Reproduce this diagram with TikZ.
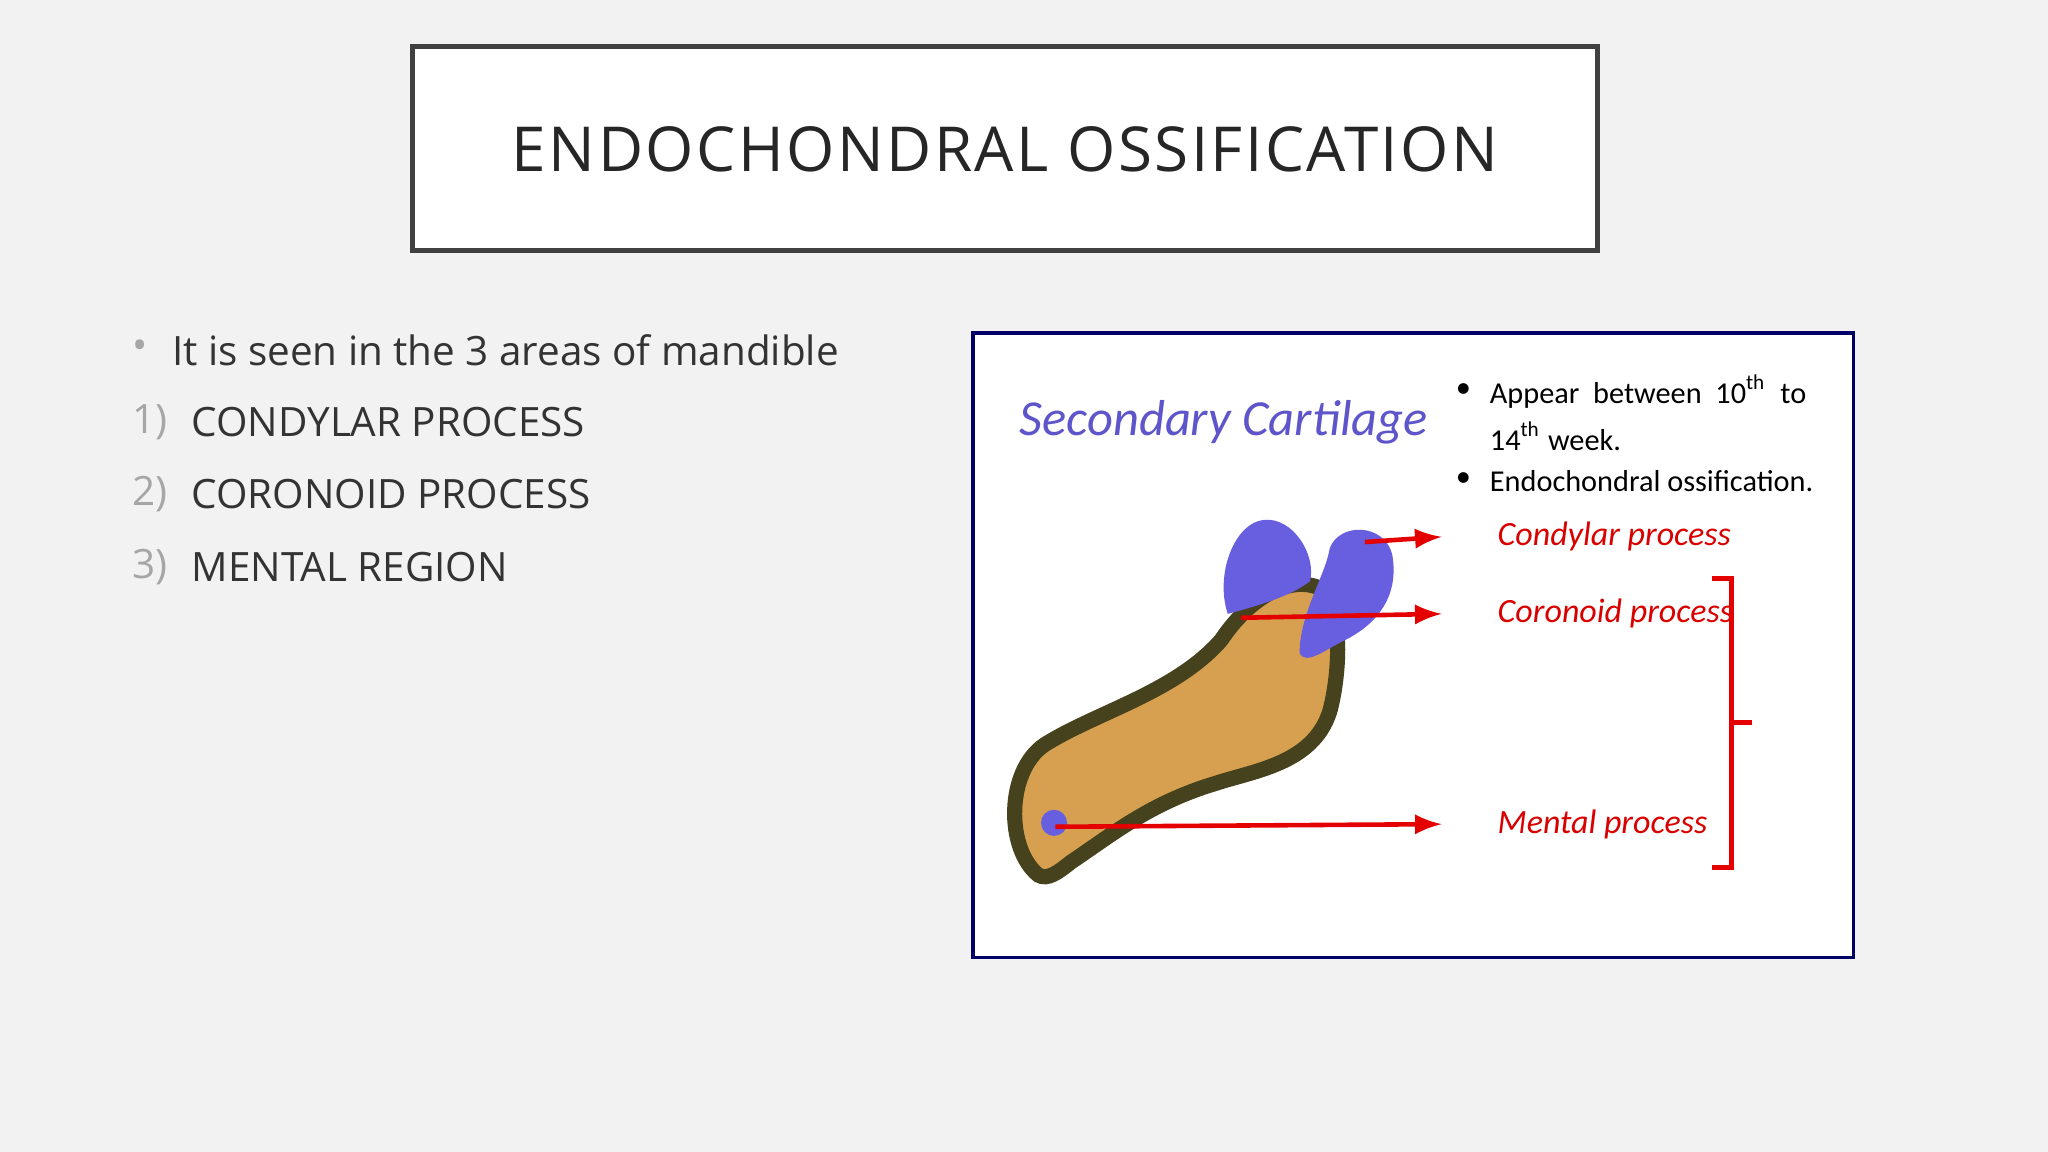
\documentclass[tikz,border=0pt]{standalone}
\usepackage{fontspec}
\setmainfont{Open Sans}
\newfontfamily\carlitofont{Carlito}
\definecolor{tan1}{RGB}{214,160,80}
\definecolor{olv}{RGB}{70,66,30}
\definecolor{lobe}{RGB}{104,94,224}
\begin{document}
\begin{tikzpicture}[x=0.01cm,y=-0.01cm,
  body/.style={anchor=west,inner sep=0,font=\fontsize{8.8}{10}\selectfont,text=black!80},
  num/.style={anchor=west,inner sep=0,font=\fontsize{8.8}{10}\selectfont,text=gray!70},
  red lbl/.style={anchor=west,inner sep=0,font=\carlitofont\itshape\fontsize{7.4}{9}\selectfont,text=red!85!black},
  blk/.style={anchor=west,inner sep=0,font=\carlitofont\fontsize{6.6}{8}\selectfont,text=black},
  arr/.style={red!90!black,line width=1pt,-latex}]
\fill[gray!10] (0,0) rectangle (1568,882);
\node[draw=black!75,line width=1.1pt,fill=white,minimum width=9.07cm,minimum height=1.56cm,
  font=\fontsize{13.5}{16}\selectfont\addfontfeature{LetterSpace=4},text=black!85] (title) at (769.5,114) {ENDOCHONDRAL OSSIFICATION};
\node[num] (b0) at (101,268) {\textbullet};
\node[body] (t0) at (131,268) {It is seen in the 3 areas of mandible};
\node[num] (n1) at (101,323) {1)}; \node[body] (t1) at (146,323) {CONDYLAR PROCESS};
\node[num] (n2) at (101,378) {2)}; \node[body] (t2) at (146,378) {CORONOID PROCESS};
\node[num] (n3) at (101,434) {3)}; \node[body] (t3) at (146,434) {MENTAL REGION};
% image
\draw[fill=white,draw=blue!40!black,line width=0.7pt] (745,255) rectangle (1419,733);
\node[inner sep=0,font=\carlitofont\itshape\fontsize{11}{13}\selectfont,text=lobe!90!black] (sc) at (937,323) {Secondary Cartilage};
\node[blk] (d1) at (1114,299) {\textbullet}; \node[blk] (a1) at (1140,300) {Appear~~between~~10\textsuperscript{th}~~to};
\node[blk] (a2) at (1140,334) {14\textsuperscript{th} week.};
\node[blk] (d2) at (1114,367) {\textbullet}; \node[blk] (a3) at (1140,368) {Endochondral ossification.};
% mandible
\draw[line width=3.3pt,draw=olv,fill=tan1]
 (795,670) .. controls (770,650) and (770,590) .. (800,570)
 .. controls (840,545) and (900,530) .. (935,490)
 .. controls (955,460) and (985,440) .. (1010,450)
 .. controls (1030,465) and (1025,520) .. (1018,545)
 .. controls (1005,585) and (960,590) .. (930,600)
 .. controls (880,615) and (850,640) .. (820,660)
 .. controls (810,668) and (802,674) .. (795,670) -- cycle;
\fill[lobe] (940,470) .. controls (930,440) and (945,400) .. (968,398)
 .. controls (990,396) and (1008,425) .. (1003,445) .. controls (990,455) and (970,462) .. (940,470) -- cycle;
\fill[lobe] (995,500) .. controls (995,470) and (1015,440) .. (1018,420)
 .. controls (1025,400) and (1060,400) .. (1066,425) .. controls (1072,460) and (1050,480) .. (1030,490)
 .. controls (1015,497) and (1000,510) .. (995,500) -- cycle;
\fill[lobe] (807,630) circle (10);
\coordinate (c1) at (1045,415); \coordinate (c2) at (950,473); \coordinate (c3) at (808,633);
\node[red lbl] (l1) at (1146,411) {Condylar process};
\node[red lbl] (l2) at (1146,470) {Coronoid process};
\node[red lbl] (l3) at (1146,631) {Mental process};
\draw[arr] (c1) -- ([xshift=-12]l1.west);
\draw[arr] (c2) -- ([xshift=-12]l2.west);
\draw[arr] (c3) -- ([xshift=-12]l3.west);
\draw[red!90!black,line width=1.1pt] (1311,443) -- (1326,443) -- (1326,664) -- (1311,664) (1326,553) -- (1341,553);
\end{tikzpicture}
\end{document}
